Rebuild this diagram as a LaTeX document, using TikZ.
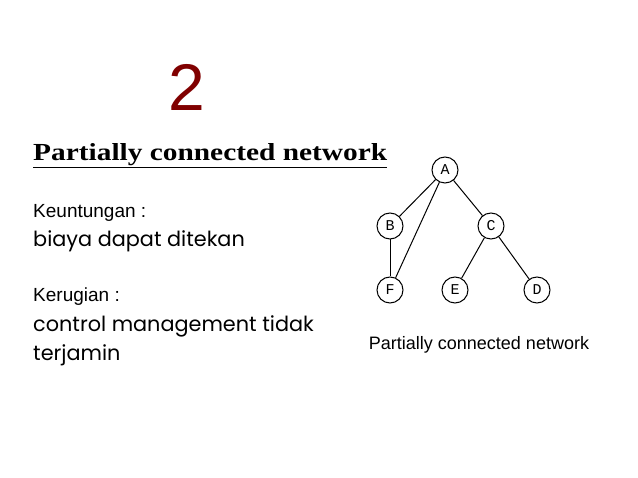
\documentclass[tikz,border=0pt]{standalone}
\usepackage{fontspec}
\usepackage{graphicx}
\setmainfont{Liberation Sans}
\newfontfamily\titlefont{Liberation Serif}
\newfontfamily\popfont{Poppins}
\newfontfamily\vtxfont{Liberation Mono}
\newcommand\vtxtext[1]{{\vtxfont\fontsize{15}{15}\selectfont #1}}
\definecolor{darkred}{RGB}{128,0,0}
\begin{document}
\begin{tikzpicture}[x=1pt,y=-1pt,
  vtx/.style={circle,draw,line width=1pt,minimum size=26pt,inner sep=0pt},
  edge/.style={line width=1pt},
  body/.style={anchor=west,inner sep=0pt,font=\fontsize{19}{22}\selectfont},
  bodyb/.style={anchor=west,inner sep=0pt,font=\popfont\fontsize{20.8}{22}\selectfont}]
\useasboundingbox (0,0) rectangle (638,478);
\node[text=darkred,font=\fontsize{66}{66}\selectfont] (num) at (187,87) {2};
\node[anchor=west,inner sep=0pt,font=\titlefont\bfseries\fontsize{22}{24}\selectfont] (title) at (33,156) {\resizebox{354pt}{17pt}{\underline{Partially connected network}}};
\node[body] (k1) at (33,213) {Keuntungan :};
\node[bodyb] (k2) at (33,241) {biaya dapat ditekan};
\node[body] (r1) at (33,297) {Kerugian :};
\node[bodyb] (r2) at (33,326) {control management tidak};
\node[bodyb] (r3) at (33,355) {terjamin};
\node[vtx] (A) at (445,170) {\vtxtext{A}};
\node[vtx] (B) at (390,226) {\vtxtext{B}};
\node[vtx] (C) at (491,226) {\vtxtext{C}};
\node[vtx] (F) at (390,290) {\vtxtext{F}};
\node[vtx] (E) at (455,290) {\vtxtext{E}};
\node[vtx] (D) at (537,290) {\vtxtext{D}};
\draw[edge] (A) -- (B);
\draw[edge] (A) -- (F);
\draw[edge] (A) -- (C);
\draw[edge] (B) -- (F);
\draw[edge] (C) -- (E);
\draw[edge] (C) -- (D);
\node[font=\fontsize{18}{20}\selectfont] (cap) at (479,345) {Partially connected network};
\end{tikzpicture}
\end{document}
